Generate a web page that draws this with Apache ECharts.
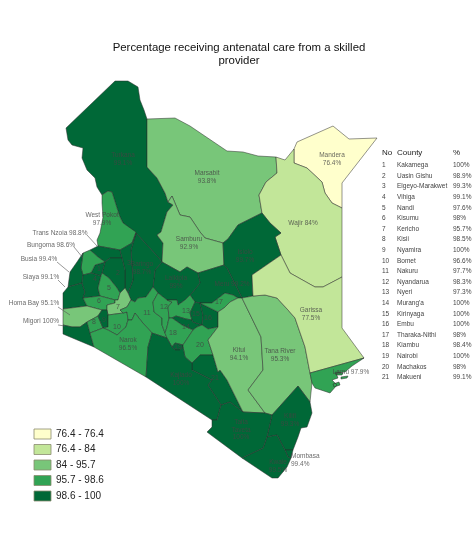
<!DOCTYPE html>
<html>
<head>
<meta charset="utf-8">
<style>
  html, body { margin: 0; background: #fff; }
  #chart { width: 474px; height: 545px; }
</style>
<script src="https://cdn.jsdelivr.net/npm/echarts@6/dist/echarts.min.js"></script>
</head>
<body>
<div id="chart"></div>
<script>
const titleText = 'Percentage receiving antenatal care from a skilled\nprovider'

// numbered counties, same order as the table on the right
const numberedCounties = ['Kakamega', 'Uasin Gishu', 'Elgeyo-Marakwet', 'Vihiga', 'Nandi', 'Kisumu', 'Kericho', 'Kisii', 'Nyamira', 'Bomet', 'Nakuru', 'Nyandarua', 'Nyeri', "Murang'a", 'Kirinyaga', 'Embu', 'Tharaka-Nithi', 'Kiambu', 'Nairobi', 'Machakos', 'Makueni']
const numberedValues = [100, 98.9, 99.3, 99.1, 97.6, 98, 95.7, 98.5, 100, 96.6, 97.7, 98.3, 97.3, 100, 100, 100, 98, 98.4, 100, 98, 99.1]

// counties labelled by name on the map
const namedCounties = ['Turkana', 'Marsabit', 'Mandera', 'Wajir', 'Samburu', 'Isiolo', 'Meru', 'Laikipia', 'Baringo', 'West Pokot', 'Kitui', 'Tana River', 'Garissa', 'Lamu', 'Kilifi', 'Kwale', 'Mombasa', 'Taita Taveta', 'Kajiado', 'Narok', 'Trans Nzoia', 'Bungoma', 'Busia', 'Siaya', 'Homa Bay', 'Migori']
const namedValues = [99.1, 93.8, 76.4, 84, 92.9, 99.7, 99.2, 99, 98.7, 97.9, 94.1, 95.3, 77.5, 97.9, 99.3, 99.5, 99.4, 100, 100, 96.5, 98.8, 98.6, 99.4, 99.1, 95.1, 100]

const classLabels = ['76.4 - 76.4', '76.4 - 84', '84 - 95.7', '95.7 - 98.6', '98.6 - 100']
const classTops = [76.4, 84, 95.7, 98.6, 100]
const classColors = ['#ffffcc', '#c2e699', '#78c679', '#31a354', '#006837']

// county outlines, in map units
const outlines = {
  Turkana: [[115,81,128,81,138,87,140,100,144,110,147,119,147,167,157,178,165,193,168,202,173,205,167,212,161,232,157,235,163,243,162,262,158,257,136,233,136,232,123,223,120,217,117,208,112,192,108,191,102,195,97,187,95,178,87,170,82,158,83,148,72,145,68,140,66,128]],
  Marsabit: [[147,119,175,118,190,126,227,151,243,152,258,156,276,157,277,173,266,182,259,195,262,213,238,225,228,239,223,243,205,238,200,232,190,217,180,215,172,196,168,202,165,193,157,178,147,167]],
  Mandera: [[294,149,297,142,333,126,349,139,377,138,342,183,342,208,332,203,325,193,322,182,307,168,294,163]],
  Wajir: [[276,157,285,160,294,149,294,163,307,168,322,182,325,193,332,203,342,208,342,277,323,287,315,287,290,273,281,255,275,237,281,233,270,223,262,213,259,195,266,182,277,173]],
  Samburu: [[168,202,172,196,180,215,190,217,200,232,205,238,223,243,224,265,198,273,187,267,180,272,162,262,163,243,157,235,161,232,167,212,173,205]],
  Isiolo: [[262,213,270,223,281,233,275,237,281,255,252,275,253,296,242,298,227,268,224,265,223,243,228,239,238,225]],
  Meru: [[198,273,224,265,227,268,242,298,238,298,233,295,225,293,212,303,200,303,195,302,190,295,192,293,200,283]],
  Laikipia: [[155,270,162,262,180,272,187,267,198,273,200,283,192,293,190,295,185,300,178,305,177,300,167,300,158,293,153,287]],
  Baringo: [[136,233,158,257,162,262,155,270,153,287,146,297,138,298,135,302,131,300,128,293,133,280,131,250]],
  'West Pokot': [[108,191,112,192,117,208,120,217,123,223,136,232,132,243,120,250,98,246,97,240,100,233,103,217,102,203,102,195]],
  'Trans Nzoia': [[90,250,98,246,120,250,122,258,110,258,105,262,98,257]],
  'Elgeyo-Marakwet': [[120,250,132,243,136,233,131,250,133,280,128,293,125,288,125,270,122,258]],
  'Uasin Gishu': [[105,262,110,258,122,258,125,270,125,288,120,293,117,288,109,278,102,273]],
  Kakamega: [[91,273,95,265,105,262,102,273,101,276]],
  Bungoma: [[83,253,90,250,98,257,105,262,95,265,91,273,83,275,81,268]],
  Busia: [[70,272,77,262,83,253,81,268,83,275,82,283,68,287]],
  Siaya: [[63,293,68,287,82,283,85,292,83,298,87,306,63,309]],
  Vihiga: [[83,275,91,273,101,276,98,288,100,296,83,298,85,292,82,283]],
  Nandi: [[101,276,102,273,109,278,117,288,120,293,118,300,115,300,100,296,98,288]],
  Kisumu: [[83,298,100,296,115,300,115,303,107,305,107,310,102,310,87,306]],
  Kericho: [[107,305,115,303,115,300,118,300,120,293,125,288,128,293,131,300,127,307,120,310,123,313,108,315,107,310]],
  'Homa Bay': [[63,309,87,306,102,310,98,316,87,322,80,327,72,327,63,325]],
  Migori: [[63,325,72,327,80,327,87,322,90,333,94,347,63,334]],
  Kisii: [[87,322,98,316,103,328,90,333]],
  Nyamira: [[98,316,102,310,107,310,108,315,108,327,103,328]],
  Bomet: [[108,315,123,313,127,312,128,320,126,327,117,335,108,330,103,328,108,327]],
  Nakuru: [[131,300,135,302,138,298,146,297,153,287,158,293,153,302,154,312,162,318,162,325,165,333,167,338,152,333,142,322,135,313,132,320,128,320,127,312,123,313,120,310,127,307]],
  Narok: [[90,333,103,328,108,330,117,335,126,327,128,320,132,320,135,313,142,322,152,333,148,347,146,377,94,347]],
  Nyandarua: [[153,302,158,293,167,300,172,302,168,307,169,318,167,327,165,333,162,325,162,318,154,312]],
  Nyeri: [[167,300,177,300,178,305,185,300,190,295,195,302,190,313,192,320,186,319,176,316,172,318,169,318,168,307,172,302]],
  "Murang'a": [[172,318,176,316,186,319,192,320,193,322,202,325,197,327,193,330,182,325]],
  Kirinyaga: [[195,302,200,303,203,315,202,325,193,322,192,320,190,313]],
  Embu: [[200,303,210,308,218,312,218,323,218,327,208,329,202,325,203,315]],
  'Tharaka-Nithi': [[200,303,212,303,225,293,233,295,238,298,230,302,224,308,218,312,210,308]],
  Kiambu: [[169,318,172,318,182,325,193,330,183,345,175,343,172,347,167,338,165,333,167,327]],
  Nairobi: [[172,347,175,343,183,345,183,347,180,350,175,350]],
  Machakos: [[193,330,197,327,202,325,208,329,218,327,208,340,213,355,200,355,192,363,185,357,183,347,183,345]],
  Makueni: [[192,363,200,355,213,355,218,372,220,370,227,380,237,400,243,412,230,402,221,405,208,385,212,380,192,370]],
  Kajiado: [[146,377,148,347,152,333,167,338,172,347,175,350,180,350,183,347,185,357,192,363,192,370,212,380,208,385,221,405,217,420,212,420]],
  Kitui: [[242,298,261,337,263,370,248,390,265,413,243,412,237,400,227,380,220,370,218,372,213,355,208,340,218,327,218,312,224,308,230,302,238,298]],
  'Tana River': [[242,298,253,296,265,295,277,298,288,310,295,318,305,347,310,373,312,383,310,402,298,386,272,415,265,413,248,390,263,370,261,337]],
  Garissa: [[252,275,281,255,290,273,315,287,323,287,342,277,342,328,364,358,310,373,305,347,295,318,288,310,277,298,265,295,253,296]],
  Lamu: [[310,373,364,358,352,366,345,372,336,373,338,378,332,380,337,385,330,393,315,388,312,383], [335,372,343,373,342,375,336,375], [341,377,348,376,347,378,341,379], [333,384,339,382,340,385,334,387]],
  Kilifi: [[298,386,310,402,312,413,307,427,301,428,298,437,293,450,285,450,277,435,267,437,272,415]],
  Mombasa: [[285,450,293,450,291,458,288,457]],
  Kwale: [[285,450,288,457,291,458,287,467,278,478,272,478,242,458,263,448,267,437,277,435]],
  'Taita Taveta': [[265,413,272,415,267,437,263,448,242,458,215,438,207,432,212,427,212,420,217,420,221,405,230,402,243,412]]
}

// where each county's text sits on the map
const numberSpots = [[99,269],[118,273],[129,263],[95,279],[109,288],[99,301],[118,307],[94,322],[104,320],[117,327],[147,313],[164,307],[186,311],[186,327],[196,314],[208,318],[219,302],[173,333],[178,347],[200,345],[215,378]]
const nameSpots = [[123,159],[207,177],[332,159],[303,223],[189,243],[245,256],[232,284],[176,282],[142,268],[102,219],[239,354],[280,355],[311,314],[351,372],[290,420],[278,466],[291,460],[241,430],[181,379],[128,344],[60,233],[51,245],[39,259],[41,277],[34,303],[41,321]]

// callout lines for the counties labelled outside the map
const leaderLines = [
  [[87,235],[97,246]],
  [[74,247],[83,258]],
  [[57,262],[69,272]],
  [[58,280],[65,287]],
  [[58,307],[70,315]],
  [[58,325],[65,326]]
]

function toFeature(name) {
  const rings = outlines[name].map(flat => {
    const ring = []
    for (let i = 0; i < flat.length; i += 2) ring.push([flat[i], -flat[i + 1]])
    ring.push(ring[0])
    return [ring]
  })
  return {
    type: 'Feature',
    properties: { name },
    geometry: { type: 'MultiPolygon', coordinates: rings }
  }
}

echarts.registerMap('kenya', {
  type: 'FeatureCollection',
  features: Object.keys(outlines).map(toFeature)
})

function nameLabel(name, value) {
  const pct = value + '%'
  if (name === 'Taita Taveta') return 'Taita\nTaveta\n' + pct
  if (name === 'Wajir' || name === 'Meru' || name === 'Lamu' || namedCounties.indexOf(name) >= 20) return name + ' ' + pct
  return name + '\n' + pct
}

const allCounties = numberedCounties.concat(namedCounties)
const allValues = numberedValues.concat(namedValues)

const labelData = [
  ...numberSpots.map((p, i) => ({ value: [p[0], -p[1]], text: String(i + 1), size: 7 })),
  ...nameSpots.map((p, i) => ({ value: [p[0], -p[1]], text: nameLabel(namedCounties[i], namedValues[i]), size: 6.5, align: namedCounties[i] === 'Mombasa' ? 'left' : 'center' }))
]

// table on the right
const tableItems = []
function cell(x, y, text, size, fill) {
  tableItems.push({
    type: 'text',
    x,
    y,
    style: { text, fontSize: size, fontFamily: 'Liberation Sans', fill, textVerticalAlign: 'middle' }
  })
}
cell(382, 153, 'No', 8, '#222')
cell(397, 153, 'County', 8, '#222')
cell(453, 153, '%', 8, '#222')
numberedCounties.forEach((name, i) => {
  const y = 165.5 + i * 10.6
  cell(382, y, String(i + 1), 6.5, '#444')
  cell(397, y, name, 6.5, '#444')
  cell(453, y, numberedValues[i] + '%', 6.5, '#444')
})

// outline around the legend swatches
const swatchFrames = classColors.map((c, i) => ({
  type: 'rect',
  shape: { x: 34, y: 429 + i * 15.5, width: 17, height: 10 },
  style: { fill: null, stroke: '#8a8a70', lineWidth: 0.8 },
  z: 100
}))

const chart = echarts.init(document.getElementById('chart'), null, { renderer: 'canvas' })

chart.setOption({
  animation: false,
  backgroundColor: '#fff',
  title: {
    text: titleText,
    left: 234,
    top: 36,
    textAlign: 'center',
    textStyle: { fontFamily: 'Liberation Sans', fontSize: 11.4, fontWeight: 'normal', color: '#111', lineHeight: 13.5 }
  },
  visualMap: {
    type: 'piecewise',
    seriesIndex: 0,
    left: 34,
    top: 429,
    padding: 0,
    inverse: true,
    itemWidth: 17,
    itemHeight: 10,
    itemGap: 5.5,
    itemSymbol: 'rect',
    selectedMode: false,
    textGap: 5,
    textStyle: { fontFamily: 'Liberation Sans', fontSize: 10, color: '#222' },
    pieces: classLabels.map((label, i) => ({
      gt: i === 0 ? 0 : classTops[i - 1],
      lte: classTops[i],
      label,
      color: classColors[i]
    }))
  },
  geo: {
    map: 'kenya',
    aspectScale: 1,
    boundingCoords: [[0, 0], [474, -545]],
    left: 0,
    top: 0,
    width: 474,
    height: 545,
    roam: false,
    silent: true,
    label: { show: false },
    itemStyle: { areaColor: '#fff', borderColor: '#2b2b2b', borderWidth: 0.5 },
    emphasis: { disabled: true }
  },
  graphic: [...tableItems, ...swatchFrames],
  series: [
    {
      type: 'map',
      geoIndex: 0,
      silent: true,
      data: allCounties.map((name, i) => ({ name, value: allValues[i] }))
    },
    {
      type: 'lines',
      coordinateSystem: 'geo',
      silent: true,
      lineStyle: { color: '#555', width: 0.6, opacity: 1, curveness: 0 },
      data: leaderLines.map(l => ({ coords: l.map(p => [p[0], -p[1]]) })),
      zlevel: 1
    },
    {
      type: 'scatter',
      coordinateSystem: 'geo',
      silent: true,
      symbolSize: 0,
      zlevel: 2,
      data: labelData.map(d => ({
        value: d.value,
        label: {
          show: true,
          position: 'inside',
          formatter: d.text,
          fontSize: d.size,
          lineHeight: 7.6,
          align: d.align || 'center',
          fontFamily: 'Liberation Sans',
          color: '#444'
        }
      }))
    }
  ]
})
</script>
</body>
</html>
